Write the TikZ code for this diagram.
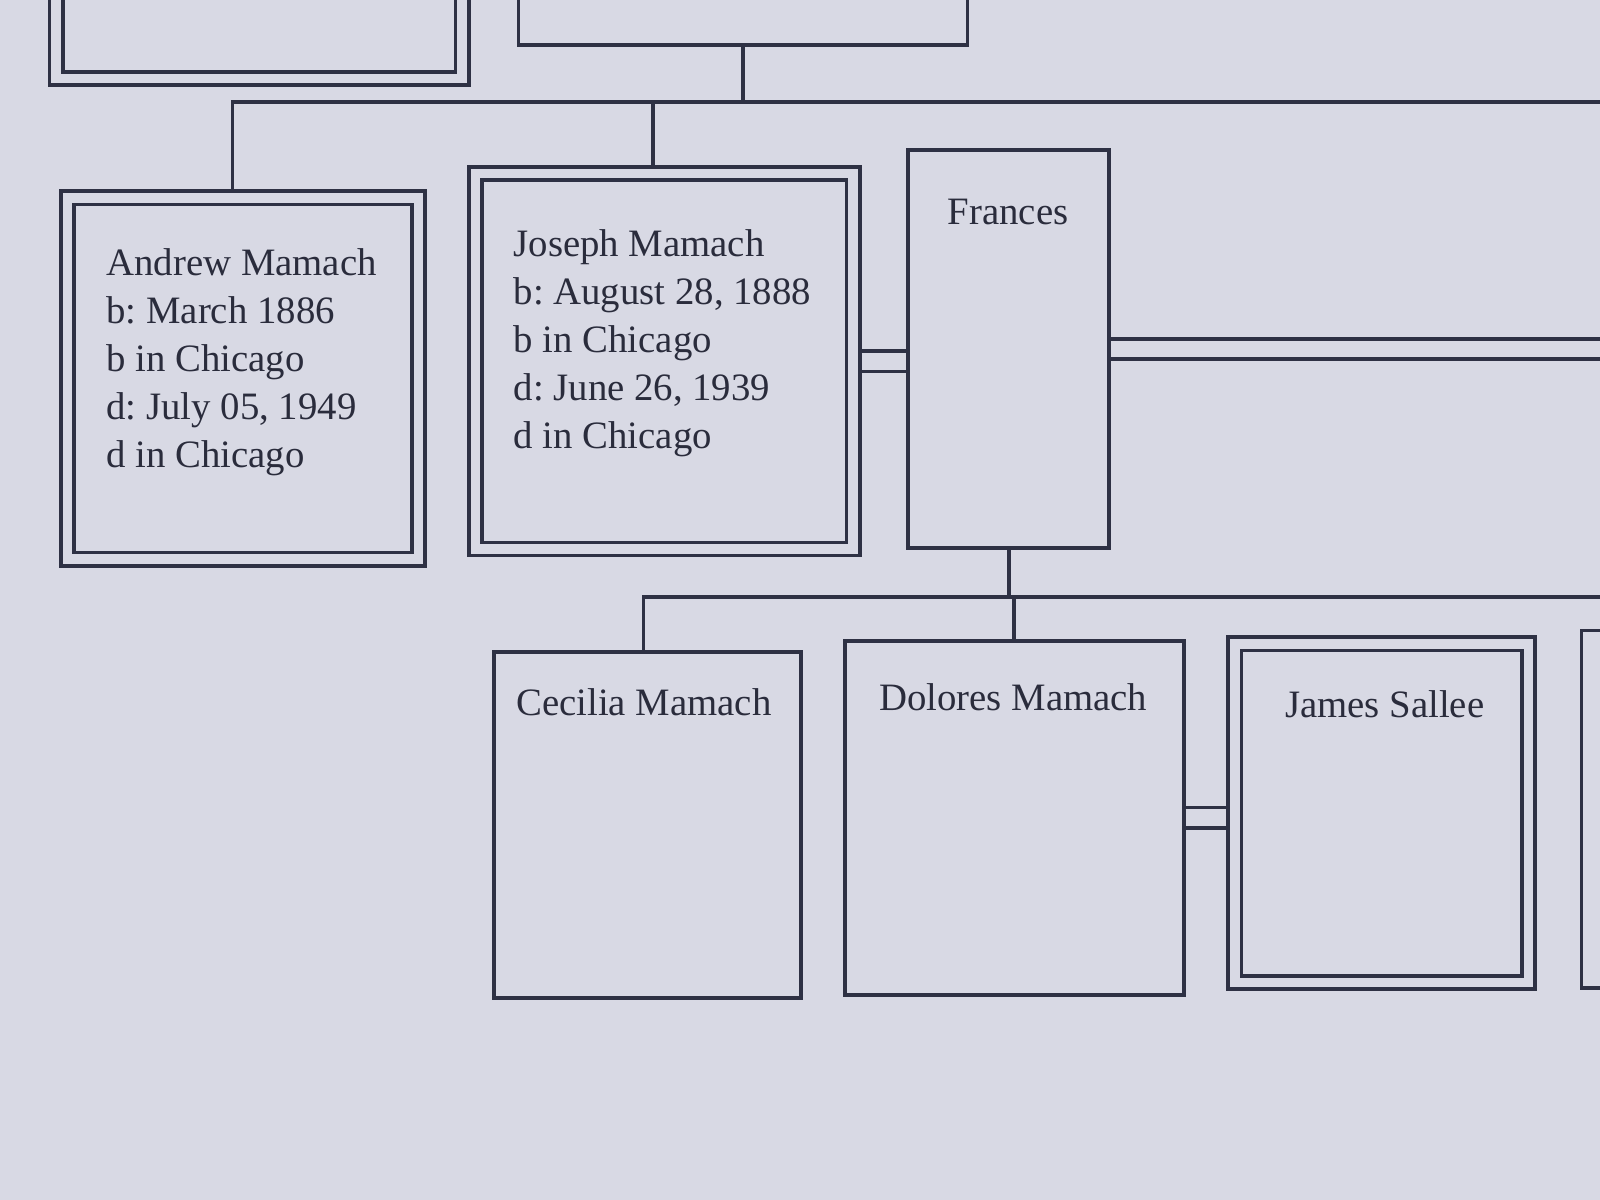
\documentclass[tikz,border=0pt]{standalone}
\usepackage{fontspec}
\setmainfont{Liberation Serif}
\usepackage{tikz}
\frenchspacing

\definecolor{paper}{HTML}{D8D9E4}
\definecolor{ink}{HTML}{2E3144}
\definecolor{print}{HTML}{2A2C3C}

\tikzset{
  box/.style={draw=ink, line width=1.8pt, inner sep=0pt, outer sep=0.9pt},
  dbox/.style={box, double=paper, double distance=4.7pt, outer sep=4.3pt},
  link/.style={draw=ink, line width=1.8pt},
  wed/.style={draw=ink, line width=1.8pt, double=paper, double distance=8.2pt},
  persontext/.style={text=print, font=\fontsize{19}{23.5}\selectfont, inner sep=0pt},
  facts/.style={persontext, align=left, anchor=north west},
}

\begin{document}
\begin{tikzpicture}[x=0.5pt, y=-0.5pt]
    \fill [paper] (0,0) rectangle (1568,1176);
    \clip (0,0) rectangle (1568,1176);
    \coordinate (edgeR) at (1600,0);
    \coordinate (gen1) at (1600,100);
    \coordinate (gen2) at (1600,585);

    % Parents (cut off at the top)
    \node [dbox, minimum width=199pt, minimum height=138pt] (topleft) at (254,-61) {};
    \node [box, minimum width=220pt, minimum height=122pt] (topmid) at (728,-78) {};

    % Children
    \node [dbox, minimum width=172pt, minimum height=177pt] (andrew) at (238,371) {};
    \node [facts] (andrewtxt) at (104,243) {Andrew Mamach\\b: March 1886\\b in Chicago\\d: July 05, 1949\\d in Chicago};
    \node [dbox, minimum width=185pt, minimum height=184pt] (joseph) at (651,354) {};
    \node [facts] (josephtxt) at (503,225) {Joseph Mamach\\b: August 28, 1888\\b in Chicago\\d: June 26, 1939\\d in Chicago};
    \node [box, minimum width=98.5pt, minimum height=195pt] (frances) at (988.5,342) {};
    \node [persontext] (francestxt) at (988,208) {Frances};

    % Grandchildren
    \node [box, minimum width=150.5pt, minimum height=169.5pt] (cecilia) at (634.5,808.5) {};
    \node [persontext] (ceciliatxt) at (631,688) {Cecilia Mamach};
    \node [box, minimum width=166pt, minimum height=173.5pt] (dolores) at (994,801.5) {};
    \node [persontext] (dolorestxt) at (993,683) {Dolores Mamach};
    \node [dbox, minimum width=144pt, minimum height=166pt] (james) at (1354,797) {};
    \node [persontext] (jamestxt) at (1357,690) {James Sallee};
    \node [box, minimum width=175pt, minimum height=175pt] (nextbox) at (1725,793) {};

    % Lines of descent
    \draw [link] (topmid.south) -- (topmid.south |- gen1);
    \draw [link] ([xshift=-5pt]andrew.north) |- (gen1);
    \draw [link] ([xshift=-5.5pt]joseph.north) -- ([xshift=-5.5pt]joseph.north |- gen1);
    \draw [link] (frances.south) -- (frances.south |- gen2);
    \draw [link] ([xshift=-2pt]cecilia.north) |- (gen2);
    \draw [link] (dolores.north) -- (dolores.north |- gen2);

    % Marriages
    \draw [wed] (joseph.east) -- (joseph.east -| frances.west);
    \draw [wed] (frances.east) -- (frances.east -| edgeR);
    \draw [wed] (dolores.east) -- (dolores.east -| james.west);
\end{tikzpicture}
\end{document}
